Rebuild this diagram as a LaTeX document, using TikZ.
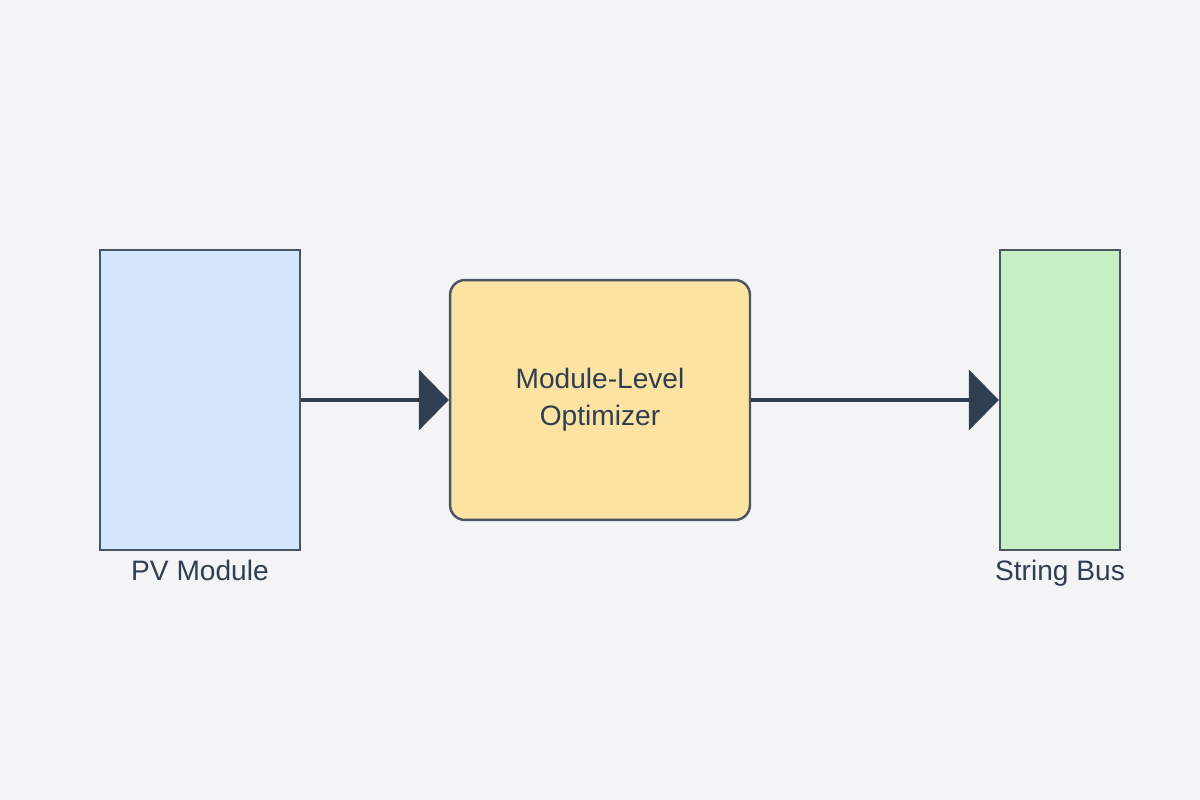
\documentclass[tikz,border=0pt]{standalone}
\usepackage{fontspec}
\setmainfont{Liberation Sans}
\usetikzlibrary{arrows.meta,positioning}
\definecolor{bgcol}{HTML}{F2F4F6}
\definecolor{edgecol}{HTML}{4A5563}
\definecolor{inkcol}{HTML}{2F3E50}
\definecolor{pvfill}{HTML}{D3E6FD}
\definecolor{optfill}{HTML}{FDE3A1}
\definecolor{busfill}{HTML}{C6F0C3}
\begin{document}
\begin{tikzpicture}
	  [
	    x                     = 0.02cm,
	    y                     = -0.02cm,
	    box/.style            = {draw=edgecol, line width=1.4pt, inner sep=0pt},
	    every node/.style     = {font=\fontsize{16}{19}\selectfont, text=inkcol},
	    flow/.style           = {draw=inkcol, line width=2.8pt,
	                             -{Triangle[length=0.6cm,width=1.2cm]}}
		]
	  \fill[bgcol] (0,0) rectangle (1200,800);
	  \useasboundingbox (0,0) rectangle (1200,800);
	  % blocks
	  \node[box, fill=pvfill, minimum width=4cm, minimum height=6cm] (pv) at (200,400) {};
	  \node[box, fill=optfill, rounded corners=0.3cm, minimum width=6cm, minimum height=4.8cm,
	        align=center] (opt) at (600,400) {Module-Level\\[2pt]Optimizer};
	  \node[box, fill=busfill, minimum width=2.4cm, minimum height=6cm] (bus) at (1060,400) {};
	  % labels
	  \node[below=0.05cm of pv] (pvlabel) {PV Module};
	  \node[below=0.05cm of bus] (buslabel) {String Bus};
	  % connectors
	  \draw[flow] (pv) -- (opt);
	  \draw[flow] (opt) -- (bus);
	\end{tikzpicture}
\end{document}
